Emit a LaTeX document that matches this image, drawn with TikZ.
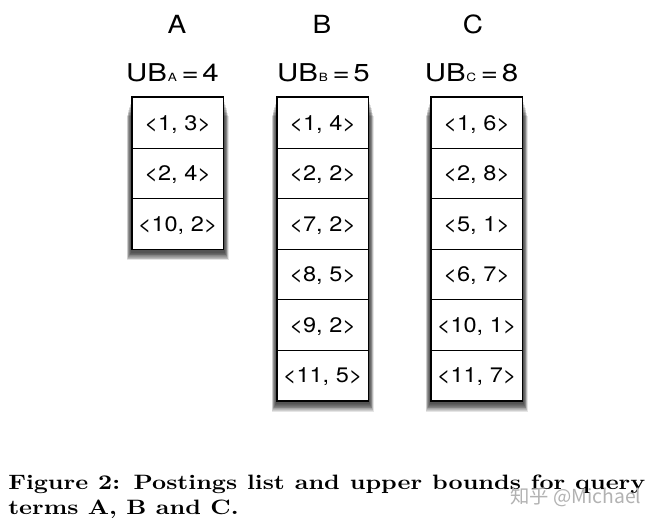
\documentclass[tikz,border=0pt]{standalone}
\usepackage{fontspec}
\usetikzlibrary{backgrounds,fit,calc}
\pgfdeclarelayer{shadowlayer}
\pgfsetlayers{shadowlayer,background,main}
\newfontfamily\hv{TeX Gyre Heros}[FakeStretch=1.12]
\newfontfamily\hvw{TeX Gyre Heros}[FakeStretch=1.2]
\newfontfamily\capfont{lmroman10-bold.otf}[FakeStretch=1.18]
\newfontfamily\cjk{Noto Sans CJK SC}
\begin{document}
\begin{tikzpicture}[x=0.75pt,y=-0.75pt,
  cell/.style={draw=black, line width=0.8pt, fill=white, anchor=north west,
    minimum width=68.25pt, minimum height=37.875pt, inner sep=0pt,
    font=\hv\fontsize{15.75}{18}\selectfont, text height=11pt, text depth=0pt},
  colframe/.style={draw=black, line width=0.8pt, fill=white, inner sep=0pt},
  shadowpiece/.style={fill=black, fill opacity=0.1, draw=none},
  hdr/.style={anchor=base, inner sep=0pt, font=\hv\fontsize{18.75}{22}\selectfont},
  ubtext/.style={anchor=base, inner sep=0pt, font=\hvw\fontsize{18.4}{21}\selectfont},
  captext/.style={anchor=base west, inner sep=0pt, font=\capfont\fontsize{15.6}{18}\selectfont}]
\useasboundingbox (0,0) rectangle (662,526);
\begin{pgfonlayer}{shadowlayer}
  \fill[white] (0,0) rectangle (662,526);
\end{pgfonlayer}

% headers
\node[hdr] (hA) at (177,33) {A};
\node[hdr] (hB) at (322,33) {B};
\node[hdr] (hC) at (473,33) {C};
\node[ubtext] (uA) at (172.5,81) {UB\hspace{0.5pt}{\fontsize{8.5}{10}\selectfont A}\hspace{3.5pt}=\hspace{2.8pt}4};
\node[ubtext] (uB) at (323.5,81) {UB\hspace{0.5pt}{\fontsize{8.5}{10}\selectfont B}\hspace{3.5pt}=\hspace{2.8pt}5};
\node[ubtext] (uC) at (471.5,81) {UB\hspace{0.5pt}{\fontsize{8.5}{10}\selectfont C}\hspace{3.5pt}=\hspace{2.8pt}8};

% posting lists
\foreach \t [count=\i] in {{<1, 3>},{<2, 4>},{<10, 2>}}
  \node[cell] (a\i) at (131.7,{97+50.5*(\i-1)}) {\t};
\foreach \t [count=\i] in {{<1, 4>},{<2, 2>},{<7, 2>},{<8, 5>},{<9, 2>},{<11, 5>}}
  \node[cell] (b\i) at (276.7,{97+50.5*(\i-1)}) {\t};
\foreach \t [count=\i] in {{<1, 6>},{<2, 8>},{<5, 1>},{<6, 7>},{<10, 1>},{<11, 7>}}
  \node[cell] (c\i) at (430.7,{97+50.5*(\i-1)}) {\t};

\begin{scope}[on background layer]
  \node[colframe, fit=(a1)(a3)] (colA) {};
  \node[colframe, fit=(b1)(b6)] (colB) {};
  \node[colframe, fit=(c1)(c6)] (colC) {};
\end{scope}

% soft drop shadows
\begin{pgfonlayer}{shadowlayer}
  \foreach \n in {colA,colB,colC}{
    \foreach \k in {1,...,10}{
      \fill[shadowpiece] ($(\n.north west)+({-0.45*\k},{4+1.6*\k})$) rectangle ($(\n.south east)+({0.45*\k},{2+0.8*\k})$);
    }
  }
\end{pgfonlayer}

% caption
\node[captext] (cap1) at (8,489) {\makebox[477.75pt][s]{Figure 2: Postings list and upper bounds for query}};
\node[captext] (cap2) at (8,514) {terms A, B and C.};
\node[anchor=base west, inner sep=0pt, text=black!30, font=\cjk\fontsize{14.5}{16}\selectfont] (wm) at (510,503) {知乎 @Michael};
\end{tikzpicture}
\end{document}
